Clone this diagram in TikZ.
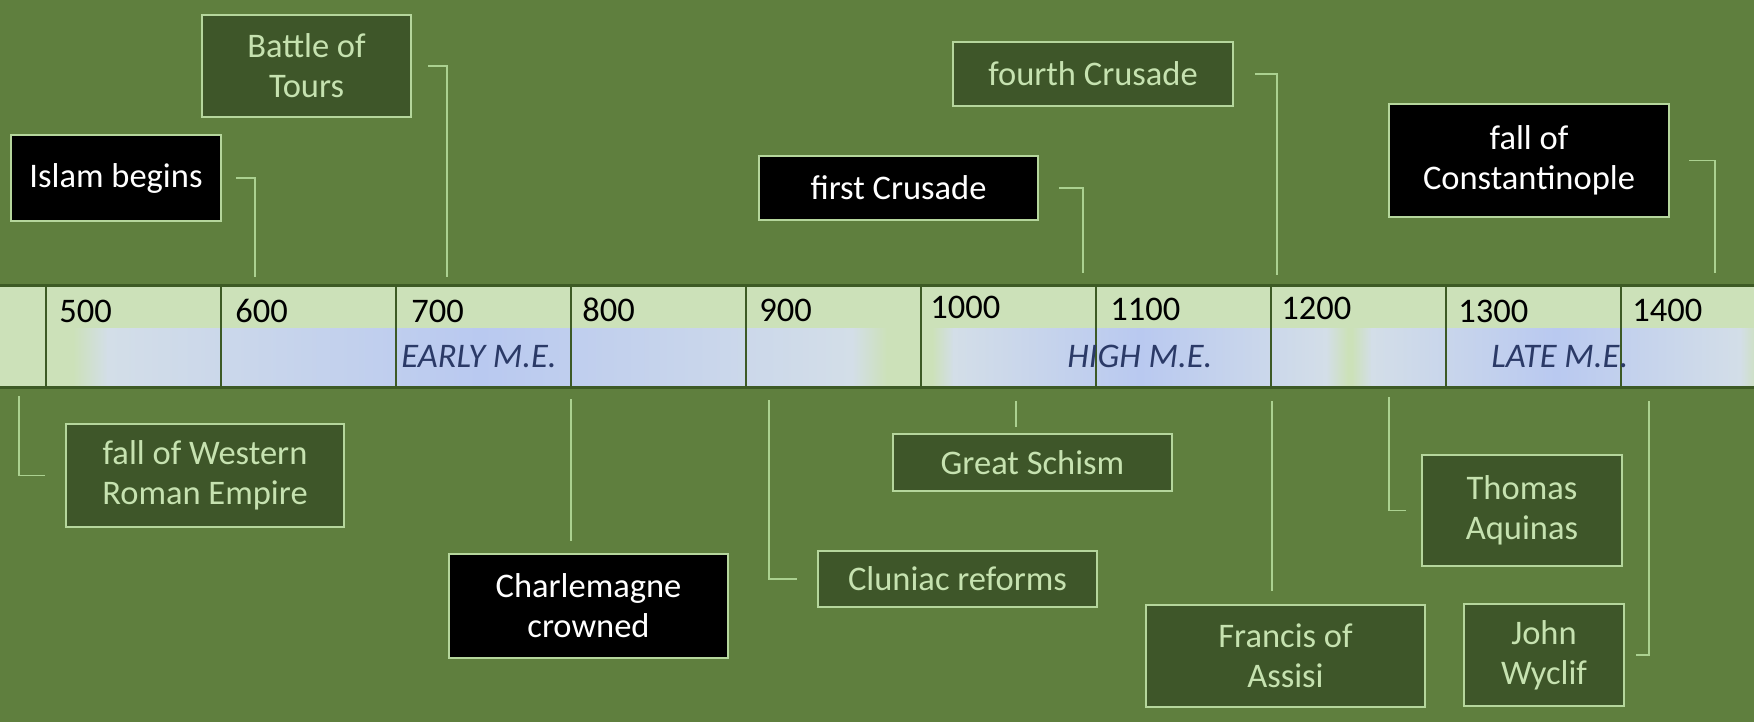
\documentclass[tikz,border=0pt]{standalone}
\usepackage{fontspec}
\setmainfont{Carlito}
\usetikzlibrary{calc}
\definecolor{bg}{HTML}{5F7F3E}
\definecolor{bandgreen}{HTML}{CCE1B9}
\definecolor{blueedge}{HTML}{D3DEE8}
\definecolor{bluemid}{HTML}{B9C9F0}
\definecolor{boxfill}{HTML}{3E5629}
\definecolor{boxline}{HTML}{B5D69C}
\definecolor{boxtext}{HTML}{C6E2B0}
\definecolor{connline}{HTML}{ABD190}
\definecolor{bandline}{HTML}{3D5A25}
\definecolor{metext}{HTML}{2B3A67}
\newcommand{\boxfont}{\fontsize{17.25}{20}\selectfont}
\newcommand{\yearfont}{\fontsize{17.25}{20}\selectfont}
\begin{document}
\begin{tikzpicture}[x=0.5pt,y=-0.5pt,
  evbox/.style={draw=boxline, line width=1pt, fill=boxfill, text=boxtext, font=\boxfont, align=center, inner sep=0pt},
  blkbox/.style={evbox, fill=black, text=white},
  conn/.style={draw=connline, line width=0.7pt},
  yearlbl/.style={anchor=base west, font=\yearfont, text=black, inner sep=0pt},
  melbl/.style={anchor=base west, font=\yearfont\itshape, text=metext, inner sep=0pt},
  divline/.style={draw=bandline, line width=1pt}
]
\fill[bg] (0,0) rectangle (1754,722);
\useasboundingbox (0,0) rectangle (1754,722);
% timeline band
\fill[bandgreen] (0,285) rectangle (1754,387);
\foreach \a/\b/\f in {73/887/35, 932/1348/22, 1352/1760/20}{
  \shade[left color=bandgreen, right color=blueedge] (\a,328) rectangle (\a+\f,385);
  \shade[left color=blueedge, right color=blueedge, middle color=bluemid] (\a+\f-0.5,328) rectangle (\b-\f+0.5,385);
  \shade[left color=blueedge, right color=bandgreen] (\b-\f,328) rectangle (\b,385);
}
\draw[bandline, line width=1.5pt] (0,285) -- (1754,285);
\draw[bandline, line width=1.5pt] (0,387) -- (1754,387);
\foreach \x in {46,221,...,1622}{
  \draw[divline] (\x,285) -- (\x,387);
}
% year labels
\node[yearlbl] (y500) at (59,322) {500};
\node[yearlbl] (y600) at (235,322) {600};
\node[yearlbl] (y700) at (411,322) {700};
\node[yearlbl] (y800) at (582,321) {800};
\node[yearlbl] (y900) at (759,321) {900};
\node[yearlbl] (y1000) at (930,318) {1000};
\node[yearlbl] (y1100) at (1110,320) {1100};
\node[yearlbl] (y1200) at (1281,319) {1200};
\node[yearlbl] (y1300) at (1458,322) {1300};
\node[yearlbl] (y1400) at (1632,321) {1400};
% era labels
\node[melbl] (early) at (401,367) {EARLY M.E.};
\node[melbl] (high) at (1067,367) {HIGH M.E.};
\node[melbl] (late) at (1491,367) {LATE M.E.};
% event boxes above
\node[evbox, minimum width=104.5pt, minimum height=51pt] (tours) at (306.5,66) {Battle of\\Tours};
\node[blkbox, minimum width=105pt, minimum height=43pt] (islam) at (116,178) {Islam begins};
\node[blkbox, minimum width=139.5pt, minimum height=32pt] (first) at (898.5,188) {first Crusade};
\node[evbox, minimum width=140pt, minimum height=32pt] (fourth) at (1093,74) {fourth Crusade};
\node[blkbox, minimum width=140pt, minimum height=56.5pt] (const) at (1529,160.5) {fall of\\Constantinople};
% event boxes below
\node[evbox, minimum width=139pt, minimum height=51.5pt] (western) at (205,475.5) {fall of Western\\Roman Empire};
\node[blkbox, minimum width=139.5pt, minimum height=52pt] (charle) at (588.5,606) {Charlemagne\\crowned};
\node[evbox, minimum width=139.5pt, minimum height=28.5pt] (schism) at (1032.5,462.5) {Great Schism};
\node[evbox, minimum width=139.5pt, minimum height=28pt] (cluniac) at (957.5,579) {Cluniac reforms};
\node[evbox, minimum width=139.5pt, minimum height=51pt] (francis) at (1285.5,656) {Francis of\\Assisi};
\node[evbox, minimum width=100pt, minimum height=55.5pt] (aquinas) at (1522,510.5) {Thomas\\Aquinas};
\node[evbox, minimum width=80pt, minimum height=51pt] (wyclif) at (1544,655) {John\\Wyclif};
% connector end points at the band
\coordinate (c1) at (255,277);
\coordinate (c2) at (447,277);
\coordinate (c3) at (1083,273);
\coordinate (c4) at (1277,275);
\coordinate (c5) at (1715,273);
\coordinate (c6) at (19,396);
\coordinate (c7) at (571,399);
\coordinate (c8) at (1016,401);
\coordinate (c9) at (769,400);
\coordinate (c10) at (1272,401);
\coordinate (c11) at (1389,397);
\coordinate (c12) at (1649,401);
% connectors
\draw[conn] ($(islam.east)+(14,0)$) -| (c1);
\draw[conn] ($(tours.east)+(16,0)$) -| (c2);
\draw[conn] ($(first.east)+(20,0)$) -| (c3);
\draw[conn] ($(fourth.east)+(21,0)$) -| (c4);
\draw[conn] ($(const.east)+(19,0)$) -| (c5);
\draw[conn] (c6) |- ($(western.west)+(-20,0)$);
\draw[conn] (c7) -- ($(charle.north -| c7)+(0,-12)$);
\draw[conn] (c8) -- ($(schism.north -| c8)+(0,-6)$);
\draw[conn] (c9) |- ($(cluniac.west)+(-20,0)$);
\draw[conn] (c10) -- ($(francis.north -| c10)+(0,-13)$);
\draw[conn] (c11) |- ($(aquinas.west)+(-15,0)$);
\draw[conn] (c12) |- ($(wyclif.east)+(11,0)$);
\end{tikzpicture}
\end{document}
